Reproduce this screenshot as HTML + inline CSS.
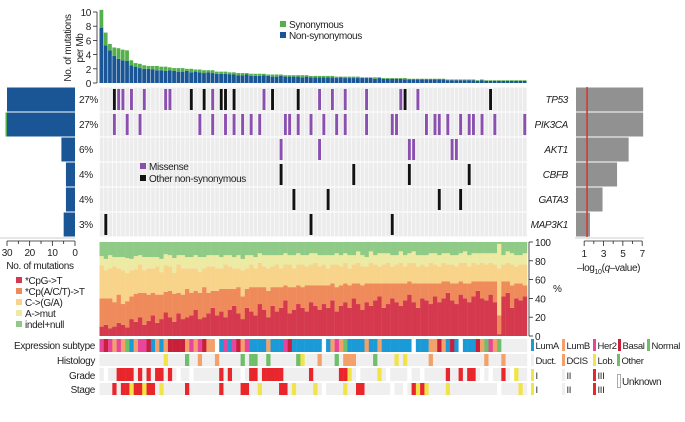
<!DOCTYPE html>
<html><head><meta charset="utf-8"><style>
html,body{margin:0;padding:0;background:#fff}
svg{display:block;font-family:"Liberation Sans",sans-serif;}
text{fill:#222;letter-spacing:-0.35px}
</style></head><body>
<svg id="c" width="685" height="422" viewBox="0 0 685 422" xmlns="http://www.w3.org/2000/svg"></svg>
<script>
const nonsyn=[7.8,5.3,4.6,3.8,3.4,3.2,3.1,2.5,2.3,2.1,2.0,2.0,1.9,1.8,1.8,1.7,1.8,1.7,1.6,1.6,1.7,1.5,1.6,1.5,1.4,1.5,1.4,1.3,1.3,1.3,1.2,1.2,1.1,1.1,1.2,1.0,1.0,1.0,1.1,1.0,0.9,0.9,1.0,0.9,0.9,0.9,0.9,0.8,0.9,0.8,0.8,0.8,0.8,0.8,0.8,0.7,0.8,0.7,0.7,0.7,0.7,0.7,0.7,0.7,0.6,0.7,0.6,0.6,0.6,0.6,0.6,0.5,0.5,0.5,0.5,0.5,0.5,0.5,0.5,0.5,0.5,0.4,0.4,0.4,0.4,0.4,0.4,0.4,0.3,0.4,0.3,0.3,0.3,0.3,0.3,0.3,0.3,0.3,0.3,0.3];
const syn=[2.5,1.8,0.9,1.2,1.5,1.5,1.5,0.7,0.5,0.6,0.5,0.4,0.5,0.6,0.5,0.6,0.4,0.4,0.5,0.5,0.3,0.5,0.3,0.4,0.4,0.3,0.4,0.3,0.3,0.3,0.3,0.3,0.3,0.3,0.2,0.3,0.3,0.3,0.2,0.2,0.3,0.3,0.2,0.2,0.2,0.2,0.2,0.3,0.2,0.2,0.2,0.2,0.2,0.2,0.2,0.2,0.1,0.2,0.2,0.2,0.2,0.1,0.1,0.1,0.2,0.1,0.1,0.1,0.1,0.1,0.1,0.2,0.1,0.1,0.1,0.1,0.1,0.1,0.1,0.1,0.1,0.1,0.1,0.1,0.1,0.1,0.1,0.1,0.1,0.1,0.1,0.1,0.1,0.1,0.1,0.1,0.1,0.1,0.1,0.1];
const genes=["TP53","PIK3CA","AKT1","CBFB","GATA3","MAP3K1"];
const genePct=["27%","27%","6%","4%","4%","3%"];
const geneCount=[30,30,6,4,4,5];
const geneSynCount=[0,1,0,0,0,0];
const geneQ=[7.1,7.1,5.6,4.4,2.9,1.6];
const missense=[[4,5,7,10,15,16,26,38,51,54,57,62,70,74],[3,6,9,23,26,29,31,33,35,37,43,44,46,49,52,55,57,62,68,69,76,78,79,81,84,86,87,89,92,99],[42,51,72,73,82,83],[],[],[]];
const otherNS=[[3,21,24,28,29,31,40,46,71,91],[],[],[42,59,72,86],[45,53,79,84],[1,49,68]];
const pCpG=[10,12,8,10,14,12,9,18,15,20,12,16,22,14,18,25,20,15,24,18,20,22,28,18,20,24,30,22,26,20,28,32,24,18,30,26,22,34,28,20,32,26,30,38,24,28,34,30,26,36,32,28,34,30,38,26,32,36,30,40,34,28,36,32,38,42,30,34,40,36,32,38,44,36,30,40,38,34,42,36,40,46,38,34,44,40,36,42,48,40,38,44,36,2,42,46,30,40,38,42];
const pCpA=[30,28,32,26,30,22,28,24,30,26,34,28,24,30,26,22,28,30,22,26,30,24,20,28,32,22,18,26,24,30,22,18,28,24,20,26,30,18,24,28,20,26,22,16,28,24,20,22,28,18,22,26,20,24,18,26,22,20,24,16,22,26,20,24,18,14,26,22,16,20,24,18,14,20,26,16,18,22,14,20,18,12,18,22,14,16,20,16,10,18,20,14,22,20,16,12,24,16,18,12];
const pCGA=[35,30,32,38,28,36,30,28,26,30,24,28,26,30,24,28,26,22,30,28,22,26,24,22,20,28,26,24,22,26,24,22,20,28,22,24,20,26,22,24,22,24,20,22,24,20,22,24,20,22,24,20,22,18,20,24,20,22,18,20,22,20,18,22,20,18,20,22,18,20,22,18,20,22,18,20,18,22,20,18,20,18,20,18,20,22,18,20,18,20,18,20,18,50,18,20,22,18,20,22];
const pAmut=[10,12,14,10,12,14,16,12,14,10,14,12,12,10,14,12,12,16,10,14,12,12,14,16,12,12,12,14,12,10,12,12,14,12,14,10,12,10,12,14,12,10,14,12,10,14,12,10,12,12,10,12,10,14,10,12,12,10,14,10,12,12,10,12,10,14,12,10,12,10,12,12,10,12,12,10,12,10,12,12,10,12,10,12,10,12,12,10,12,10,12,10,12,26,10,12,12,12,10,12];
const subtype="HSHBHBNABHHSABABSSSSBHBHSBB.AHAHSBHAAAABAAAHSAAAAAAA.ABHBNAAAABAABAAAAAAA.AAABBSBASA.AAASBNHBN".split("");
const histo="DDDDDDDDDDDDDDDLDDDDOD BDDDBDDDDDODOODDODDDDDDOLDDDBDDDODBBBDDDDODDDDLDLDDDDDBDDDDDDDDDDDDBDDDBDD".split("");
const grade="2U2233332323233232U22U22222232322U233233333222222322222233Y2U2222Y2U2222U22U2222232232332U2U2232UY22U".split("");
const stage="2223233Y33Y332Y2222232222222322223322Y2222332Y2222Y2U2222Y2233222222U22U23Y3Y2222Y22222222222U2222Y2".split("");

const svg=document.getElementById('c');
const NS='http://www.w3.org/2000/svg';
function el(tag,attrs,parent){const e=document.createElementNS(NS,tag);for(const k in attrs)e.setAttribute(k,attrs[k]);(parent||svg).appendChild(e);return e;}
function txt(x,y,s,attrs){const t=el('text',Object.assign({x:x,y:y,'font-size':10},attrs||{}));t.textContent=s;return t;}
const N=nonsyn.length;
const X0=99.5,X1=527;const cw=(X1-X0)/N;
const xs=i=>X0+i*cw;
const yTop=v=>83-v*7.1;
const gTop=el('g',{});
for(let i=0;i<N;i++){
 const r=el('rect',{x:xs(i),y:yTop(nonsyn[i]),width:cw-0.5,height:83-yTop(nonsyn[i]),fill:'#1a5696'},gTop);
 
 const s=el('rect',{x:xs(i),y:yTop(nonsyn[i]+syn[i]),width:cw-0.5,height:syn[i]*7.1,fill:'#54b04a'},gTop);
 
}
el('line',{x1:97,y1:yTop(0),x2:97,y2:yTop(10),stroke:'#222','stroke-width':0.8});
[0,2,4,6,8,10].forEach(v=>{el('line',{x1:93,x2:97,y1:yTop(v),y2:yTop(v),stroke:'#222','stroke-width':0.8});
 const t=txt(91,yTop(v)+4,String(v),{'text-anchor':'end'});});
let yt=txt(0,0,'No. of mutations',{transform:'translate(71,48) rotate(-90)','text-anchor':'middle'});
yt=txt(0,0,'per Mb',{transform:'translate(83,48) rotate(-90)','text-anchor':'middle'});
el('rect',{x:280,y:21,width:6,height:6,fill:'#54b04a'});
let lg=txt(289,28,'Synonymous');
el('rect',{x:280,y:32,width:6,height:6,fill:'#1a5696'});
lg=txt(289,39,'Non-synonymous');
const GY=87,GH=25;
el('rect',{x:X0,y:GY,width:X1-X0,height:GH*6,fill:'#ececec'});
for(let i=0;i<=N;i++)el('line',{x1:xs(i),x2:xs(i),y1:GY,y2:GY+GH*6,stroke:'#fff','stroke-width':0.6});
for(let g=0;g<=6;g++)el('line',{x1:X0,x2:X1,y1:GY+g*GH,y2:GY+g*GH,stroke:'#fff','stroke-width':1});
const xL=v=>75-v*(68/30);
const xQ=v=>574.5+v*9.67;
genes.forEach((gname,g)=>{
 const y=GY+g*GH;
 missense[g].forEach(i=>{const r=el('rect',{x:xs(i)+0.6,y:y+2,width:cw-1.4,height:GH-4,fill:'#8a4fb0'});});
 otherNS[g].forEach(i=>{const r=el('rect',{x:xs(i)+0.6,y:y+2,width:cw-1.4,height:GH-4,fill:'#111'});});
 let t=txt(568,y+16,gname,{'text-anchor':'end','font-style':'italic'});
 t=txt(79,y+16,genePct[g]);
 let b=el('rect',{x:xL(geneCount[g]),y:y+0.5,width:75-xL(geneCount[g]),height:GH-1,fill:'#1a5696'});
 if(geneSynCount[g]>0){el('rect',{x:xL(geneCount[g])-1.5,y:y+0.5,width:1.5,height:GH-1,fill:'#54b04a'});}
 b=el('rect',{x:xQ(0)+1.5,y:y+0.5,width:xQ(geneQ[g])-xQ(0)-1.5,height:GH-1,fill:'#919191'});
});
el('line',{x1:0,x2:75,y1:GY+GH*6+1,y2:GY+GH*6+1,stroke:'#ccc','stroke-width':1});
el('line',{x1:575,x2:644,y1:GY+GH*6+1,y2:GY+GH*6+1,stroke:'#ccc','stroke-width':1});
el('line',{x1:xQ(1.3),x2:xQ(1.3),y1:GY,y2:GY+GH*6,stroke:'#d9322e','stroke-width':1.5});
el('rect',{x:140,y:163,width:6,height:6,fill:'#8a4fb0'});
lg=txt(149,170,'Missense');
el('rect',{x:140,y:175,width:6,height:6,fill:'#111'});
lg=txt(149,182,'Other non-synonymous');
el('line',{x1:xL(30),x2:xL(0),y1:241,y2:241,stroke:'#222','stroke-width':0.8});
[0,5,10,15,20,25,30].forEach(v=>el('line',{x1:xL(v),x2:xL(v),y1:241,y2:v%10==0?246:244,stroke:'#222','stroke-width':0.8}));
[0,10,20,30].forEach(v=>{const t=txt(xL(v),256,String(v),{'text-anchor':'middle'});});
lg=txt(40,269,'No. of mutations',{'text-anchor':'middle'});
el('line',{x1:xQ(1),x2:xQ(7),y1:241,y2:241,stroke:'#222','stroke-width':0.8});
[1,2,3,4,5,6,7].forEach(v=>el('line',{x1:xQ(v),x2:xQ(v),y1:241,y2:v%2==1?246:244,stroke:'#222','stroke-width':0.8}));
[1,3,5,7].forEach(v=>{const t=txt(xQ(v),257,String(v),{'text-anchor':'middle'});});
lg=el('text',{x:577,y:271,'font-size':10});lg.innerHTML='\u2013log<tspan font-size="7" dy="3">10</tspan><tspan dy="-3">(</tspan><tspan font-style="italic">q</tspan>\u2013value)';

const yP=v=>336-v*0.94;
const cols=['#d5394d','#ef8a5b','#f8d38a','#eceaa3','#8fca87'];
for(let i=0;i<N;i++){
 const vals=[pCpG[i],pCpA[i],pCGA[i],pAmut[i]];let s=vals.reduce((a,b)=>a+b,0);vals.push(Math.max(0,100-s));
 let acc=0;vals.forEach((v,k)=>{const r=el('rect',{x:xs(i),y:yP(acc+v),width:cw+0.2,height:v*0.94,fill:cols[k]});acc+=v;});
}
el('line',{x1:529,x2:529,y1:yP(0),y2:yP(100),stroke:'#222','stroke-width':0.8});
[0,20,40,60,80,100].forEach(v=>{el('line',{x1:529,x2:533,y1:yP(v),y2:yP(v),stroke:'#222','stroke-width':0.8});
 const t=txt(535,yP(v)+4,String(v));});
lg=txt(553,292,'%');
const specNames=['*CpG->T','*Cp(A/C/T)->T','C->(G/A)','A->mut','indel+null'];
specNames.forEach((n,k)=>{el('rect',{x:16,y:277+k*11,width:6,height:6,fill:cols[k]});const t=txt(25,284+k*11,n);});
const subCol={A:'#1a9ad6',B:'#f4a06b',H:'#e8459b',S:'#c8203a',N:'#6fbf6a','.':'#fff'};
const hisCol={D:'#efefef',B:'#f4a06b',L:'#f1e34a',O:'#6fbf6a',' ':'#efefef'};
const grCol={Y:'#f1e34a','2':'#efefef','3':'#e8262b',U:'#fff'};
function row(arr,map,y,h,name){for(let i=0;i<N;i++){const c=map[arr[i]||'2']||'#efefef';const r=el('rect',{x:xs(i),y:y,width:cw+0.2,height:h,fill:c});}}
row(subtype,subCol,339,13,'subtype-cell');
row(histo,hisCol,354,12,'histology-cell');
row(grade,grCol,368,13,'grade-cell');
row(stage,grCol,383,12,'stage-cell');
[['Expression subtype',349],['Histology',364],['Grade',379],['Stage',393]].forEach(([s,y])=>{const t=txt(95,y,s,{'text-anchor':'end'});});
function leg(x,y,c,s){el('rect',{x:x,y:y,width:3,height:12,fill:c});const t=txt(x+4.5,y+10,s,{'font-size':9.5});}
leg(531,339,'#1a9ad6','LumA');leg(562,339,'#f4a06b','LumB');leg(593,339,'#e8459b','Her2');leg(618,339,'#c8203a','Basal');leg(647,339,'#6fbf6a','Normal');
leg(531,354,'#efefef','Duct.');leg(562,354,'#f4a06b','DCIS');leg(593,354,'#f1e34a','Lob.');leg(617,354,'#6fbf6a','Other');
leg(531,369,'#f1e34a','I');leg(562,369,'#efefef','II');leg(593,369,'#e8262b','III');
leg(531,383,'#f1e34a','I');leg(562,383,'#efefef','II');leg(593,383,'#e8262b','III');
el('rect',{x:617.5,y:374.5,width:3,height:13,fill:'#fff',stroke:'#888','stroke-width':0.7});
lg=txt(622,385,'Unknown');
</script>
</body></html>
